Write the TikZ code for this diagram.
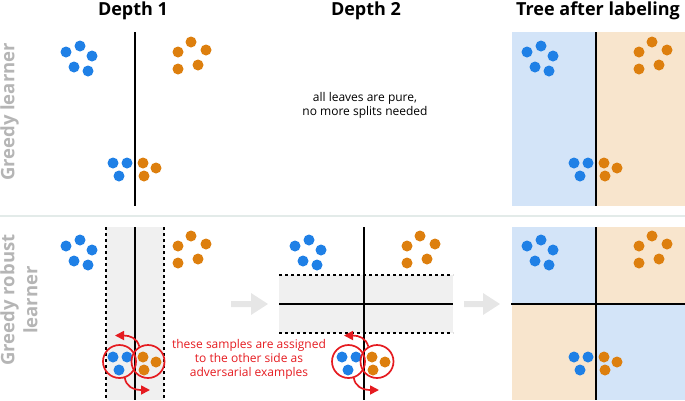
\documentclass[tikz,border=0pt]{standalone}
\usepackage{fontspec}
\setmainfont{Open Sans}
\usetikzlibrary{arrows.meta}
\definecolor{dotblue}{HTML}{1F80E6}
\definecolor{dotorange}{HTML}{DD7F0E}
\definecolor{lightblue}{HTML}{D3E4F8}
\definecolor{lightorange}{HTML}{F8E5CD}
\definecolor{bandgray}{HTML}{F0F0F0}
\definecolor{arrowgray}{HTML}{E6E6E6}
\definecolor{labelgray}{HTML}{B5B5B5}
\definecolor{sepgray}{HTML}{E3EBE9}
\definecolor{redc}{HTML}{E51B20}
\newcommand\bluetop{%
  \fill[dotblue] (66,52) circle (5.5pt) (80,46) circle (5.5pt) (92,56) circle (5.5pt)
    (74,67) circle (5.5pt) (88,71) circle (5.5pt);}
\newcommand\orangetop{%
  \fill[dotorange] (178,52) circle (5.5pt) (191,42) circle (5.5pt) (206,50) circle (5.5pt)
    (178,69) circle (5.5pt) (198,65) circle (5.5pt);}
\newcommand\bottomset{%
  \fill[dotblue] (113,163) circle (5.5pt) (127,163) circle (5.5pt) (119,176) circle (5.5pt);
  \fill[dotorange] (143,163) circle (5.5pt) (156,168) circle (5.5pt) (144,176) circle (5.5pt);}
\newcommand\allsets{\bluetop\orangetop\bottomset}
\begin{document}
\begin{tikzpicture}[x=1pt,y=-1pt,
  title/.style={font=\fontsize{18}{22}\selectfont\bfseries,anchor=base,inner sep=0},
  rowlabel/.style={font=\fontsize{18.5}{23}\selectfont\bfseries,text=labelgray,rotate=90,align=center,inner sep=0},
  note/.style={font=\fontsize{12}{14}\selectfont,align=center,inner sep=0},
  splitline/.style={line width=1.8pt,black},
  marginline/.style={line width=1.6pt,black,dash pattern=on 3pt off 3pt},
  redcirc/.style={circle,draw=redc,line width=1.7pt,minimum size=33pt,inner sep=0},
  redarrow/.style={draw=redc,line width=1.7pt,-{Triangle[length=9pt,width=9pt]}},
  bigarrow/.style={fill=arrowgray}]
\useasboundingbox (0,0) rectangle (685,400);

% titles
\node[title] (t1) at (133,15) {Depth 1};
\node[title] (t2) at (366,15) {Depth 2};
\node[title] (t3) at (598,15) {Tree after labeling};

% row labels
\node[rowlabel] (r1) at (9.5,112) {Greedy learner};
\node[rowlabel] (r2) at (19,300) {Greedy robust\\learner};

% separator
\draw[sepgray,line width=1.5pt] (0,216) -- (685,216);

% ---------- Row 1 ----------
\draw[splitline] (135,32) -- (135,206);
\allsets
\node[note] (pure) at (365,105) {all leaves are pure,\\no more splits needed};
\fill[lightblue] (512,32) rectangle (596,206);
\fill[lightorange] (596,32) rectangle (685,206);
\draw[splitline] (596,32) -- (596,206);
\begin{scope}[shift={(461,0)}]\allsets\end{scope}

% ---------- Row 2 ----------
\fill[bandgray] (106,227) rectangle (164,400);
\draw[marginline] (106,227) -- (106,400);
\draw[marginline] (164,227) -- (164,400);
\draw[splitline] (135,227) -- (135,400);
\begin{scope}[shift={(0,194)}]\allsets\end{scope}
\node[redcirc] (bc1) at (119.5,361.5) {};
\node[redcirc] (oc1) at (148,361.5) {};
\coordinate (up1) at (115,335.5);
\coordinate (dn1) at (150,390);
\draw[redarrow] (oc1.120) .. controls (137,338) and (130,335.5) .. (up1);
\draw[redarrow] (bc1.-72) .. controls (126,386) and (133,390) .. (dn1);

\node[note,text=redc] (adv) at (249,359.5) {these samples are assigned\\to the other side as\\adversarial examples};

\fill[bigarrow] (231,301) -- (251,301) -- (251,293) -- (268,304) -- (251,315) -- (251,307) -- (231,307) -- cycle;

\fill[bandgray] (279,275) rectangle (453,333);
\draw[marginline] (279,275) -- (453,275);
\draw[marginline] (279,333) -- (453,333);
\draw[splitline] (279,304) -- (453,304);
\draw[splitline] (364,227) -- (364,400);
\begin{scope}[shift={(229,194)}]\allsets\end{scope}
\node[redcirc] (bc2) at (348.5,361.5) {};
\node[redcirc] (oc2) at (377,361.5) {};
\coordinate (up2) at (344,335.5);
\coordinate (dn2) at (379,390);
\draw[redarrow] (oc2.120) .. controls (366,338) and (359,335.5) .. (up2);
\draw[redarrow] (bc2.-72) .. controls (355,386) and (362,390) .. (dn2);

\fill[bigarrow] (464,301) -- (483,301) -- (483,293) -- (500,304) -- (483,315) -- (483,307) -- (464,307) -- cycle;

\fill[lightblue] (512,227) rectangle (596,304);
\fill[lightorange] (596,227) rectangle (685,304);
\fill[lightorange] (512,304) rectangle (596,400);
\fill[lightblue] (596,304) rectangle (685,400);
\draw[splitline] (511,304) -- (685,304);
\draw[splitline] (596,227) -- (596,400);
\begin{scope}[shift={(461,194)}]\allsets\end{scope}
\end{tikzpicture}
\end{document}
